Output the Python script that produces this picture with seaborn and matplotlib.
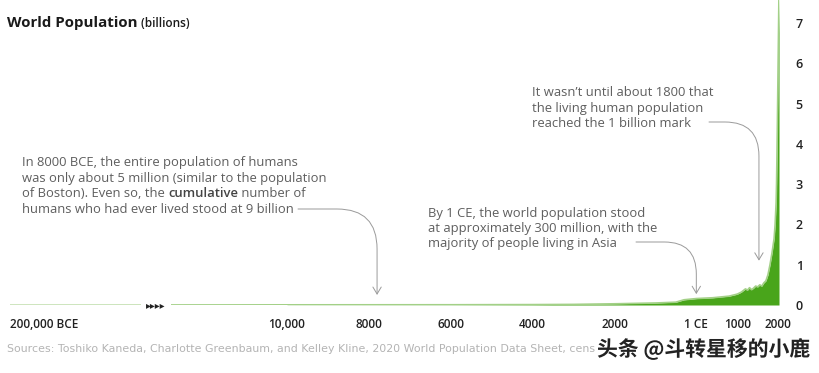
import numpy as np
import matplotlib
matplotlib.use("Agg")
import matplotlib.pyplot as plt
import matplotlib.patheffects as pe
import seaborn as sns

# Data (billions)
years = [-200000, -100000, -50000, -10000, -8000, -6000, -4000, -3000, -2000,
         -1000, -500, -400, -300, -200, 1, 200, 400, 600, 800, 1000, 1100,
         1150, 1200, 1250, 1300, 1350, 1400, 1450, 1500, 1550, 1600, 1650,
         1700, 1750, 1800, 1850, 1900, 1925, 1950, 1960, 1970, 1980, 1990,
         2000, 2010, 2020]
population = [0.0, 0.001, 0.002, 0.004, 0.005, 0.006, 0.01, 0.015, 0.03,
              0.05, 0.07, 0.1, 0.13, 0.14, 0.16, 0.17, 0.18, 0.2, 0.22, 0.27,
              0.32, 0.36, 0.4, 0.37, 0.43, 0.38, 0.42, 0.47, 0.45, 0.5, 0.47,
              0.55, 0.6, 0.75, 1.0, 1.3, 1.65, 2.0, 2.55, 3.0, 3.7, 4.45, 5.3,
              6.1, 6.95, 7.8]

tick_years = [-200000, -10000, -8000, -6000, -4000, -2000, 1, 1000, 2000]
tick_labels = ['200,000 BCE', '10,000', '8000', '6000', '4000', '2000',
               '1 CE', '1000', '2000']
y_ticks = [0, 1, 2, 3, 4, 5, 6, 7]

notes = [
    ["In 8000 BCE, the entire population of humans",
     "was only about 5 million (similar to the population",
     ["of Boston). Even so, the ", "cumulative", " number of"],
     "humans who had ever lived stood at 9 billion"],
    ["By 1 CE, the world population stood",
     "at approximately 300 million, with the",
     "majority of people living in Asia"],
    ["It wasn\u2019t until about 1800 that",
     "the living human population",
     "reached the 1 billion mark"],
]
note_tips = [(-7800, 0.25), (0, 0.27), (1530, 1.1)]

source = ("Sources: Toshiko Kaneda, Charlotte Greenbaum, and Kelley Kline, "
          "2020 World Population Data Sheet, cens")
watermark = "头条 @斗转星移的小鹿"

sns.set_style("white")
plt.rcParams['font.family'] = ['Open Sans', 'DejaVu Sans']

W, H = 820, 373
fig = plt.figure(figsize=(W / 100, H / 100), dpi=100)
ax = fig.add_axes([10 / W, (H - 305) / H, 769 / W, 305 / H])

# compress the long stretch before 10,000 BCE
k = 6768 / 190000


def fwd(x):
    x = np.asarray(x, dtype=float)
    return np.where(x < -10000, -10000 + (x + 10000) * k, x)


def inv(s):
    s = np.asarray(s, dtype=float)
    return np.where(s < -10000, -10000 + (s + 10000) / k, s)


ax.set_xscale('function', functions=(fwd, inv))

yrs = np.array(years)
pop = np.array(population)
early = yrs <= -100000
late = yrs >= -100000
filled = yrs >= -10000

ax.fill_between(yrs[filled], 0, pop[filled], color='#49a51b', lw=0)
sns.lineplot(x=yrs[early], y=pop[early], ax=ax, color='#c6e1b4', lw=1.2)
sns.lineplot(x=yrs[late], y=pop[late], ax=ax, color='#a3d087', lw=1.2)

ax.set_xlim(-200000, 2020)
ax.set_ylim(0, 7.57)
for s in ax.spines.values():
    s.set_visible(False)

ax.set_xticks(tick_years)
ax.set_xticklabels(tick_labels, fontsize=8.5, fontweight='semibold', color='#222222')
ax.get_xticklabels()[0].set_ha('left')
ax.tick_params(axis='x', length=0, pad=9)
ax.yaxis.tick_right()
ax.set_yticks(y_ticks)
ax.set_yticklabels([str(v) for v in y_ticks], fontsize=9, fontweight='semibold', color='#222222')
ax.tick_params(axis='y', length=0, pad=12)
ax.set_xlabel('')
ax.set_ylabel('')

# break marker on the compressed axis
ax.text(-100000, 0.0, '\u25b8\u25b8\u25b8\u25b8', fontsize=7, color='#222222',
        family=['DejaVu Sans'], ha='center', va='center',
        bbox=dict(facecolor='white', edgecolor='none', pad=4))


def fx(px):
    return px / W


def fy(py):
    return (H - py) / H


# title
t = fig.text(fx(7), fy(27), 'World Population', fontsize=10.8, fontweight='bold',
             color='#1a1a1a', va='baseline')
ax.annotate(' (billions)', xy=(1, 0), xycoords=t, fontsize=8.5, fontweight='semibold',
            color='#1a1a1a', va='bottom', annotation_clip=False)

gray = '#5e5e5e'
note_x = [22, 428, 532]
note_base = [[166, 181.7, 197.3, 213], [216.7, 232.3, 247.5], [96, 111.7, 127]]
note_fs = 9.4
for lines, x0, bases in zip(notes, note_x, note_base):
    for line, b in zip(lines, bases):
        if isinstance(line, list):
            prev = fig.text(fx(x0), fy(b), line[0], fontsize=note_fs, color=gray,
                            va='baseline')
            for i, piece in enumerate(line[1:]):
                prev = ax.annotate(piece, xy=(1, 0), xycoords=prev, va='bottom',
                                   fontsize=note_fs, color='#444444' if i == 0 else gray,
                                   fontweight='semibold' if i == 0 else 'normal',
                                   annotation_clip=False)
        else:
            fig.text(fx(x0), fy(b), line, fontsize=note_fs, color=gray, va='baseline')

# connector arrows
starts = [(298, 209), (636, 242), (709, 122)]
rads = [40, 32, 34]
for (tx, ty), (sx, sy), r in zip(note_tips, starts, rads):
    ax.annotate('', xy=(tx, ty), xycoords='data',
                xytext=(fx(sx), fy(sy)), textcoords='figure fraction',
                arrowprops=dict(arrowstyle='->,head_length=0.5,head_width=0.3',
                                connectionstyle=f'angle,angleA=0,angleB=90,rad={r}',
                                color='#9a9a9a', lw=0.7, shrinkA=0, shrinkB=0),
                annotation_clip=False)

fig.text(fx(7), fy(349), source, fontsize=7.9, color='#b4b4b4', va='center',
         family=['DejaVu Sans'])
fig.text(fx(597), fy(349), watermark, fontsize=15, color='#222222', va='center',
         fontweight='bold', family=['Noto Sans CJK SC', 'DejaVu Sans'],
         path_effects=[pe.withStroke(linewidth=2.5, foreground='white')])

fig.savefig('out.png', dpi=100)
